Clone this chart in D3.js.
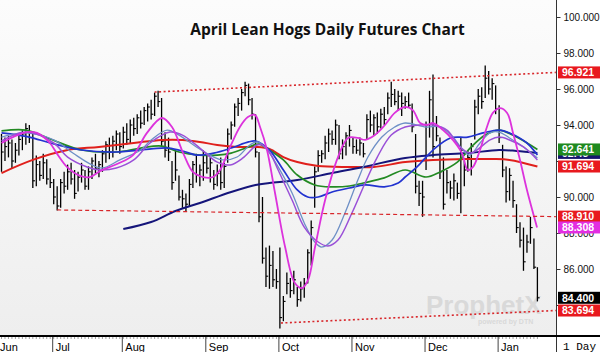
<!DOCTYPE html>
<html>
<head>
<meta charset="utf-8">
<script src="https://cdn.jsdelivr.net/npm/d3@7"></script>
<style>
    body { margin: 0; background: #fff; }
    svg { display: block; }
</style>
</head>
<body>
<div id="chart"></div>
<script>
// Daily bars, one entry per trading day (Jun -> mid Jan)
var highs = [93.5,93.3,93.4,93.2,93.0,93.5,93.7,94.1,94.0,93.5,92.3,92.0,92.4,92.1,91.6,
    91.0,90.6,91.0,91.4,91.8,91.9,91.5,91.4,91.9,91.5,91.7,92.2,92.4,92.0,92.6,93.1,93.3,93.4,93.7,93.6,
    93.9,94.1,94.3,94.4,94.6,94.8,95.0,95.2,95.4,95.8,95.9,95.5,93.6,93.3,92.0,92.6,91.2,90.4,90.2,91.0,92.0,92.4,91.8,
    92.6,92.4,92.2,91.5,91.8,92.2,91.9,93.8,94.2,95.2,95.5,96.0,96.4,96.3,95.5,94.6,92.5,90.0,87.2,87.3,87.0,86.0,
    87.2,84.5,85.8,85.5,85.9,85.0,85.3,85.5,87.1,88.7,91.7,92.6,92.6,93.4,93.8,93.7,94.3,94.0,93.2,93.6,94.0,
    93.3,93.2,93.3,93.0,94.6,94.8,94.6,94.7,94.9,95.0,95.8,96.4,96.0,95.9,95.8,95.6,95.8,95.2,93.5,90.9,90.9,
    94.2,95.9,96.8,94.5,93.3,92.2,91.5,90.9,91.3,90.8,93.3,92.0,92.6,93.0,95.4,96.0,96.1,97.3,97.0,96.6,96.2,
    95.1,92.9,91.7,91.6,90.9,89.6,88.6,88.3,87.9,88.9,87.7,86.1];
var lows = [91.4,92.0,92.2,91.6,91.9,92.3,92.6,92.9,93.0,90.5,90.6,90.9,91.0,90.7,90.5,
    89.6,89.25,89.4,90.2,90.4,90.7,89.9,90.3,90.8,90.4,90.4,91.0,91.3,91.1,91.4,91.9,92.1,92.2,92.6,92.4,
    92.7,92.9,93.0,93.4,93.5,93.8,94.0,94.2,94.3,94.5,95.0,92.8,92.2,92.0,90.4,90.9,89.8,89.4,89.2,89.5,90.5,90.8,90.6,
    90.9,91.3,90.8,90.4,90.6,90.4,90.5,91.9,93.2,93.9,94.5,94.8,95.6,95.1,94.3,92.2,88.6,86.3,85.0,84.9,85.0,84.9,
    82.7,83.1,84.6,84.4,84.6,83.9,84.2,84.4,85.2,86.2,89.4,91.4,91.9,92.1,92.5,92.9,92.9,92.1,92.1,92.3,92.8,
    92.4,92.4,92.3,92.2,93.2,93.6,93.4,93.5,93.8,94.0,94.6,95.0,95.1,94.8,94.5,94.9,95.0,93.6,90.2,89.5,88.9,
    91.5,93.3,92.2,93.1,91.0,89.3,90.2,89.9,89.8,89.9,89.1,90.6,91.4,91.2,93.2,94.6,94.9,95.5,95.7,95.4,94.6,
    93.0,91.1,89.7,89.8,89.4,88.0,87.2,85.9,86.9,87.4,86.0,84.2];
var closes = [92.5,92.8,93.0,92.0,92.6,93.2,93.5,93.8,93.3,90.9,91.8,91.2,91.9,91.0,90.8,
    90.0,89.5,90.8,90.6,91.4,91.0,90.2,91.1,91.5,90.6,91.4,92.0,91.6,91.8,92.4,92.9,92.5,93.1,93.5,92.8,
    93.6,93.2,94.0,93.8,94.4,94.1,94.8,95.0,94.6,95.6,95.3,93.1,92.6,92.5,90.8,91.5,90.0,89.9,89.6,90.7,91.8,91.2,91.5,
    91.9,91.6,91.9,90.7,91.3,90.8,91.7,93.5,94.0,95.0,95.2,95.8,96.2,95.4,94.6,92.5,88.9,86.6,85.6,86.2,85.4,85.3,
    83.3,84.2,85.2,84.8,85.4,84.3,84.9,85.2,86.9,88.3,91.4,92.3,92.4,93.0,93.5,93.2,94.0,92.4,92.8,93.4,93.7,
    92.8,92.6,93.0,92.4,94.3,94.0,94.4,93.9,94.6,94.3,95.5,95.7,95.3,95.6,95.2,95.3,95.1,93.9,90.6,90.2,90.0,
    94.0,95.4,92.8,93.4,91.4,89.6,90.8,90.5,90.9,90.2,92.6,91.5,92.2,92.8,95.0,95.6,95.3,96.6,96.0,96.3,94.9,
    93.3,91.5,90.3,91.2,89.8,88.3,87.6,86.4,87.5,88.3,86.1,84.4];

var months = ["Jun", "Jul", "Aug", "Sep", "Oct", "Nov", "Dec", "Jan"];
var monthStart = [-1, 15, 35, 59, 80, 101, 122, 143];
var yTicks = [100, 98, 96, 94, 92, 90, 88, 86, 84];
var yLabelTicks = [100, 98, 96, 94, 90, 88, 86];   // 92 and 84 sit under the price tags

var maRed = [[0,91.33],[9,92.06],[19,92.61],[28,92.78],[38,93.0],[46,93.17],[52,93.17],[57,93.06],[62,92.89],
    [68,92.78],[73,92.78],[77,92.67],[81,92.22],[85,91.94],[91,91.72],[100,91.67],[107,91.67],[116,91.94],
    [124,92.06],[134,92.11],[141,92.11],[146,92.06],[154,91.69]];
var maNavy = [[35,88.22],[43,88.61],[50,89.22],[57,89.67],[66,90.28],[73,90.67],[77,90.78],[85,90.94],
    [95,91.33],[104,91.67],[116,92.17],[124,92.33],[134,92.44],[143,92.61],[148,92.56],[154,92.45]];
var maBlue = [[0,93.56],[8,93.33],[14,93.0],[23,92.61],[33,92.5],[43,92.67],[48,92.72],[53,92.5],[56,92.33],
    [61,92.44],[66,92.72],[71,93.06],[73,93.11],[77,92.61],[81,91.5],[85,90.39],[88,90.0],[91,90.0],[95,90.28],
    [100,90.5],[104.5,90.67],[110,90.56],[114,90.78],[116,91.11],[119.4,91.67],[124,92.61],[129,93.28],
    [134,93.33],[138.4,93.56],[143,93.72],[146,93.56],[151,93.0],[154,92.33]];
var maGreen = [[0,93.67],[7,93.72],[14,93.22],[23,92.61],[33,92.5],[40,92.72],[46,92.83],[51,92.5],[57,92.33],
    [62,92.33],[66,92.44],[71,92.78],[74,92.94],[77,92.61],[81,92.06],[85,91.22],[90,90.67],[95,90.56],
    [100,90.61],[104,90.78],[110,91.06],[116,91.5],[122,91.11],[126,91.39],[131,91.94],[135,92.78],
    [139,93.44],[143,93.72],[148,93.33],[154,92.64]];
var maSteel = [[0,93.33],[7,93.56],[15,93.17],[20.5,92.44],[26,91.78],[29,91.61],[34,92.06],[40,92.61],
    [43,93.17],[47.6,93.72],[51,93.44],[56,92.78],[61,92.22],[63.6,92.06],[67.7,92.22],[71.4,92.89],
    [73.7,93.06],[77,92.44],[79.5,91.67],[83.5,90.22],[87,88.56],[90,87.5],[92,87.22],[95,87.61],
    [98.7,89.11],[102.4,90.94],[105.3,92.22],[109.3,93.33],[113,93.89],[116,94.11],[122,93.89],[126,93.89],
    [129.7,93.33],[132.6,92.61],[134.6,92.33],[137.5,93.0],[140.4,93.56],[143,93.61],[146,93.28],
    [150,92.78],[154,92.17]];
var maViolet = [[0,93.11],[7,93.61],[15,93.0],[19,92.22],[24.6,91.67],[28.3,91.5],[33,91.61],[38,92.06],
    [42.7,93.0],[48.4,93.61],[52,93.44],[57,92.72],[62,91.94],[65.7,91.78],[69.4,92.17],[73.4,92.89],
    [75,92.89],[77,92.5],[79.5,91.5],[83.5,89.83],[87,88.33],[91,87.5],[93.8,87.28],[96.7,87.61],
    [100.7,89.11],[104.5,90.78],[108,92.22],[112,93.44],[116,93.89],[120,94.0],[124,94.0],[128,93.72],
    [131.8,92.78],[134.6,92.44],[136.6,92.61],[140.4,93.17],[143,93.33],[146,93.17],[150,92.78],[154,92.06]];
var maMagenta = [[0,93.0],[3.3,93.33],[7.3,93.61],[10.2,93.56],[13.9,93.0],[16.2,92.33],[18.8,91.67],
    [22.6,91.17],[25.4,91.11],[28.3,91.44],[33.2,91.83],[37.8,92.33],[41.8,93.56],[46.1,94.39],[49,93.89],
    [52.2,92.44],[55,91.39],[57.9,91.11],[60.8,91.11],[62.8,91.5],[65.7,92.78],[68.5,93.89],[70.8,94.44],
    [72.8,94.56],[74.3,93.89],[76.3,92.61],[78.6,90.22],[81.5,87.22],[84.3,85.22],[86.4,84.94],[88.1,85.39],
    [90.1,87.22],[93,89.83],[96.7,92.22],[99.6,93.28],[102.4,93.28],[104.5,93.17],[107.3,93.44],[110.2,94.0],
    [113,94.67],[115.9,95.0],[118.2,94.83],[120.3,94.11],[122.3,94.0],[124,94.11],[126.9,93.72],[129.7,93.17],
    [132.3,92.44],[134,91.5],[135.5,91.67],[137.5,92.61],[139.5,93.89],[141.2,94.67],[143.2,94.94],
    [145.3,94.67],[147,93.56],[149,92.06],[151,90.39],[153.9,88.31]];

// trend lines [bar, price] -> right edge
var trendTop = [[44, 95.83], [159.3, 96.921]];
var trendSupport = [[16, 89.28], [159.3, 88.91]];
var trendBottom = [[80.3, 83.0], [159.3, 83.694]];

var tagValues = [96.921, 92.45, 92.641, 91.694, 88.910, 88.308, 84.400, 83.694];
var tagText = ["96.921", "92.45", "92.641", "91.694", "88.910", "88.308", "84.400", "83.694"];

var W = 600, H = 352;
var plotRight = 556, plotBottom = 335;

var svg = d3.select("#chart").append("svg")
    .attr("width", W)
    .attr("height", H)
    .style("font-family", "'Liberation Sans', Arial, sans-serif");

var x = d3.scaleLinear().domain([0, 154]).range([1.5, 537.4]);
var y = d3.scaleLinear().domain([100, 82]).range([17, 341]);

var defs = svg.append("defs");
var grad = defs.append("linearGradient").attr("id", "bg").attr("x1", 0).attr("y1", 0).attr("x2", 0).attr("y2", 1);
grad.append("stop").attr("offset", "0%").attr("stop-color", "#fcfcfc");
grad.append("stop").attr("offset", "100%").attr("stop-color", "#eeeeee");
defs.append("clipPath").attr("id", "plotclip")
    .append("rect").attr("width", plotRight).attr("height", plotBottom);

svg.append("rect").attr("width", W).attr("height", H).attr("fill", "#fff");
svg.append("rect").attr("width", plotRight).attr("height", plotBottom).attr("fill", "url(#bg)");

var plot = svg.append("g").attr("clip-path", "url(#plotclip)");

// watermark
var wm = plot.append("g").attr("fill", "#d9d9d9");
wm.append("text").attr("x", 426).attr("y", 314)
    .style("font-size", "26px").style("font-weight", "bold").text("ProphetX");
wm.append("text").attr("x", 478).attr("y", 324)
    .style("font-size", "7px").style("font-weight", "bold").text("powered by DTN");

// title
svg.append("text")
    .attr("x", 327.5).attr("y", 34.5)
    .attr("text-anchor", "middle")
    .style("font-family", "'Open Sans', sans-serif")
    .style("font-weight", "bold")
    .style("font-size", "15.5px")
    .attr("fill", "#111")
    .text("April Lean Hogs Daily Futures Chart");

// bars
var idx = d3.range(closes.length);
plot.selectAll(".bar").data(idx).enter().append("line")
    .attr("class", "bar")
    .attr("x1", function(i){ return x(i); })
    .attr("x2", function(i){ return x(i); })
    .attr("y1", function(i){ return y(highs[i]); })
    .attr("y2", function(i){ return y(lows[i]); })
    .attr("stroke", "#000")
    .attr("stroke-width", 1.3);

plot.selectAll(".close").data(idx).enter().append("line")
    .attr("class", "close")
    .attr("x1", function(i){ return x(i); })
    .attr("x2", function(i){ return x(i) + 2.2; })
    .attr("y1", function(i){ return y(closes[i]); })
    .attr("y2", function(i){ return y(closes[i]); })
    .attr("stroke", "#000")
    .attr("stroke-width", 1.1);

// moving averages
var line = d3.line()
    .x(function(d){ return x(d[0]); })
    .y(function(d){ return y(d[1]); })
    .curve(d3.curveCatmullRom.alpha(0.5));

var maList = [
    { data: maRed, color: "#e0201c", w: 2 },
    { data: maNavy, color: "#15157a", w: 2 },
    { data: maGreen, color: "#238a23", w: 1.7 },
    { data: maBlue, color: "#2233d0", w: 1.7 },
    { data: maSteel, color: "#6d8fc6", w: 1.3 },
    { data: maViolet, color: "#9a50d8", w: 1.5 },
    { data: maMagenta, color: "#dc32dc", w: 1.8 }
];
maList.forEach(function(m){
    plot.append("path")
        .attr("d", line(m.data))
        .attr("fill", "none")
        .attr("stroke", m.color)
        .attr("stroke-width", m.w);
});

// trend lines
var straight = d3.line()
    .x(function(d){ return x(d[0]); })
    .y(function(d){ return y(d[1]); });
[[trendTop, "2,2.5", 1.6], [trendSupport, "4,3", 1.2], [trendBottom, "2,2.5", 1.6]].forEach(function(t){
    plot.append("path")
        .attr("d", straight(t[0]))
        .attr("fill", "none")
        .attr("stroke", "#d8262a")
        .attr("stroke-dasharray", t[1])
        .attr("stroke-width", t[2]);
});

// right axis
svg.append("line")
    .attr("x1", plotRight + 0.5).attr("x2", plotRight + 0.5)
    .attr("y1", 0).attr("y2", H)
    .attr("stroke", "#333").attr("stroke-width", 1);

var yAxis = d3.axisRight(y)
    .tickValues(yTicks)
    .tickSize(4)
    .tickPadding(3)
    .tickFormat(function(d){ return yLabelTicks.indexOf(d) >= 0 ? d3.format(".3f")(d) : ""; });
var yg = svg.append("g")
    .attr("transform", "translate(" + (plotRight + 0.5) + ",0)")
    .call(yAxis);
yg.select(".domain").remove();
yg.selectAll("text")
    .style("font-family", "'Liberation Sans', Arial, sans-serif")
    .style("font-size", "10px")
    .attr("fill", "#111");
yg.selectAll("line").attr("stroke", "#333");

// price tags
var tagColors = ["#e8191e", "#16166e", "#1f8a1f", "#e8191e", "#e8191e", "#e22ee2", "#000000", "#e8191e"];
var tags = svg.selectAll(".tag").data(tagValues).enter().append("g")
    .attr("class", "tag")
    .attr("transform", function(d){ return "translate(" + (plotRight + 2) + "," + y(d) + ")"; });
tags.append("rect")
    .attr("x", 0).attr("y", -6)
    .attr("width", W - plotRight - 2).attr("height", 12)
    .attr("fill", function(d, i){ return tagColors[i]; });
tags.append("text")
    .attr("x", 4).attr("dy", "0.36em")
    .style("font-size", "10.5px")
    .style("font-weight", "bold")
    .attr("fill", "#fff")
    .text(function(d, i){ return tagText[i]; });

// x axis strip
svg.append("line")
    .attr("x1", 0).attr("x2", W)
    .attr("y1", plotBottom + 1).attr("y2", plotBottom + 1)
    .attr("stroke", "#000").attr("stroke-width", 2);

svg.selectAll(".dtick").data(idx).enter().append("line")
    .attr("class", "dtick")
    .attr("x1", function(i){ return x(i); })
    .attr("x2", function(i){ return x(i); })
    .attr("y1", plotBottom + 2).attr("y2", plotBottom + 4)
    .attr("stroke", "#777").attr("stroke-width", 0.7);

var mg = svg.selectAll(".month").data(months).enter().append("g")
    .attr("class", "month")
    .attr("transform", function(d, i){ return "translate(" + (x(monthStart[i]) - 1) + ",0)"; });
mg.append("line")
    .attr("y1", plotBottom + 2).attr("y2", H)
    .attr("stroke", "#444").attr("stroke-width", 1);
mg.append("text")
    .attr("x", 3).attr("y", 351)
    .style("font-size", "11px")
    .attr("fill", "#000")
    .text(function(d){ return d; });

svg.append("text")
    .attr("x", 563).attr("y", 350)
    .style("font-family", "'Liberation Mono', monospace")
    .style("font-size", "11px")
    .attr("fill", "#000")
    .text("1 Day");
</script>
</body>
</html>
